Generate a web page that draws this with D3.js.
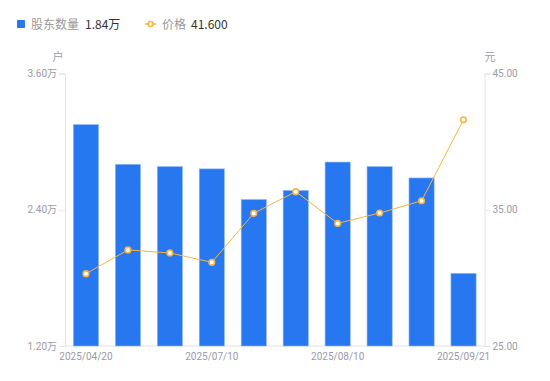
<!DOCTYPE html>
<html><head><meta charset="utf-8">
<script src="https://cdn.jsdelivr.net/npm/d3@7"></script>
<style>body{margin:0;background:#fff;font-family:"Noto Sans CJK SC","Noto Sans",sans-serif;}</style>
</head><body><svg id="c" width="550" height="381"></svg>
<script>
const categories = ["2025/04/20","2025/05/20","2025/06/30","2025/07/10","2025/07/20","2025/07/31","2025/08/10","2025/08/20","2025/08/31","2025/09/21"];
const holders = [3.15,2.80,2.78,2.76,2.49,2.57,2.82,2.78,2.68,1.84];
const prices = [30.31,32.05,31.83,31.14,34.74,36.33,34.00,34.76,35.66,41.60];
const leftTicks = [1.2,2.4,3.6];
const rightTicks = [25,35,45];
const shownLabels = ["2025/04/20","2025/07/10","2025/08/10","2025/09/21"];

const svg = d3.select("#c");
const L=65, R=484.5, T=73.5, B=346;
const x = d3.scaleBand().domain(categories).range([L,R]).paddingInner(0.4).paddingOuter(0.2);
const yL = d3.scaleLinear().domain([1.2,3.6]).range([B,T]);
const yR = d3.scaleLinear().domain([25,45]).range([B,T]);
const tc="#9a9aa8", ac="#e3e3e8";

// axes
const gl = svg.append("g").attr("transform",`translate(${L},0)`).call(d3.axisLeft(yL).tickValues(leftTicks).tickSize(6).tickPadding(2).tickFormat(d=>d3.format(".2f")(d)+"万"));
const gr = svg.append("g").attr("transform",`translate(${R},0)`).call(d3.axisRight(yR).tickValues(rightTicks).tickSize(6).tickPadding(2).tickFormat(d3.format(".2f")));
const gx = svg.append("g").attr("transform",`translate(0,${B})`).call(d3.axisBottom(x).tickValues(shownLabels).tickSize(0).tickPadding(7));
[gl,gr,gx].forEach(g=>{
  g.select(".domain").attr("stroke",ac);
  g.selectAll(".tick line").attr("stroke",ac);
  g.selectAll("text").attr("fill",tc).style("font-size","10px").style("font-family","Roboto,'Noto Sans CJK SC',sans-serif");
});
gx.select(".domain").attr("d",`M${L},0H${R}`);

svg.append("text").attr("x",58).attr("y",61).attr("text-anchor","middle").attr("fill",tc).style("font-size","11px").text("户");
svg.append("text").attr("x",490).attr("y",61).attr("text-anchor","middle").attr("fill",tc).style("font-size","11px").text("元");

// bars
svg.append("g").selectAll("rect").data(categories).join("rect")
  .attr("x",d=>x(d)).attr("width",x.bandwidth())
  .attr("y",(d,i)=>yL(holders[i])).attr("height",(d,i)=>B-yL(holders[i]))
  .attr("fill","#2777f0").attr("stroke","#8db8f7").attr("stroke-width",0.6);

// line
const cx = d=>x(d)+x.bandwidth()/2;
svg.append("path").datum(categories).attr("fill","none").attr("stroke","#f9b43e").attr("stroke-width",1)
  .attr("d",d3.line().x(cx).y((d,i)=>yR(prices[i])));
svg.append("g").selectAll("circle").data(categories).join("circle")
  .attr("cx",cx).attr("cy",(d,i)=>yR(prices[i])).attr("r",2.8)
  .attr("fill","#fff").attr("stroke","#f9b43e").attr("stroke-width",1.6);

// legend
const lg = svg.append("g").style("font-size","12px");
lg.append("rect").attr("x",17).attr("y",20).attr("width",8).attr("height",8).attr("rx",1).attr("fill","#2777f0");
lg.append("text").attr("x",31).attr("y",28.5).attr("fill","#999").text("股东数量");
lg.append("text").attr("x",85).attr("y",28.5).attr("fill","#333").text("1.84万");
lg.append("line").attr("x1",145).attr("x2",156).attr("y1",24).attr("y2",24).attr("stroke","#f9b43e").attr("stroke-width",1.5);
lg.append("circle").attr("cx",150.5).attr("cy",24).attr("r",2.5).attr("fill","#fff").attr("stroke","#f9b43e").attr("stroke-width",1.5);
lg.append("text").attr("x",162).attr("y",28.5).attr("fill","#999").text("价格");
lg.append("text").attr("x",191).attr("y",28.5).attr("fill","#333").text("41.600");
</script></body></html>
